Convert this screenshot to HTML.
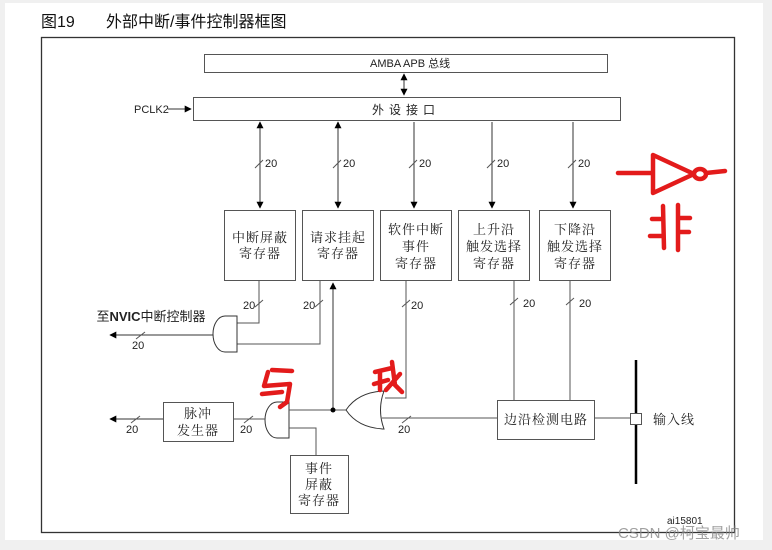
<!DOCTYPE html>
<html><head><meta charset="utf-8"><style>
html,body{margin:0;padding:0;background:#f0f0f0;}
svg{display:block;font-family:"Liberation Sans","Noto Sans CJK SC",sans-serif;}
.s{font-family:"Liberation Serif","Noto Serif CJK SC",serif;}
</style></head><body>
<svg width="772" height="550" viewBox="0 0 772 550" xmlns="http://www.w3.org/2000/svg">
<defs>
<marker id="a" viewBox="0 0 10 10" refX="9" refY="5" markerWidth="7" markerHeight="7" orient="auto-start-reverse"><path d="M0,0 L10,5 L0,10z" fill="#000"/></marker>
</defs>
<rect x="5" y="3" width="758" height="537" fill="#fff"/>
<text x="41" y="27" font-size="16" fill="#111">图19</text>
<text x="106" y="27" font-size="16" fill="#111">外部中断/事件控制器框图</text>
<rect x="41.5" y="37.5" width="693" height="495" fill="none" stroke="#333" stroke-width="1.3"/>
<g stroke="#555" fill="none" stroke-width="1">
<rect x="204.5" y="54.5" width="403" height="18"/>
<rect x="193.5" y="97.5" width="427" height="23"/>
<line x1="404" y1="74" x2="404" y2="95" marker-start="url(#a)" marker-end="url(#a)" stroke="#333"/>
<line x1="168" y1="109" x2="191" y2="109" marker-end="url(#a)" stroke="#333"/>
<g stroke="#333">
<line x1="260" y1="122" x2="260" y2="208" marker-start="url(#a)" marker-end="url(#a)"/>
<line x1="338" y1="122" x2="338" y2="208" marker-start="url(#a)" marker-end="url(#a)"/>
<line x1="414" y1="122" x2="414" y2="208" marker-end="url(#a)"/>
<line x1="492" y1="122" x2="492" y2="208" marker-end="url(#a)"/>
<line x1="573" y1="122" x2="573" y2="208" marker-end="url(#a)"/>
</g>
<rect x="224.5" y="210.5" width="71" height="70"/>
<rect x="302.5" y="210.5" width="71" height="70"/>
<rect x="380.5" y="210.5" width="71" height="70"/>
<rect x="458.5" y="210.5" width="71" height="70"/>
<rect x="539.5" y="210.5" width="71" height="70"/>
<path d="M255,168 l8,-8 M333,168 l8,-8 M409,168 l8,-8 M487,168 l8,-8 M568,168 l8,-8"/>
<polyline points="259,281 259,323 237,323"/>
<polyline points="320,281 320,344 237,344"/>
<line x1="333" y1="409" x2="333" y2="283" marker-end="url(#a)" stroke="#333"/>
<polyline points="406,281 406,398 385,398"/>
<polyline points="514,281 514,400"/>
<polyline points="570,281 570,400"/>
<path d="M255,307 l8,-7 M315,307 l8,-7 M402,307 l8,-7 M510,305 l8,-7 M566,305 l8,-7"/>
<path d="M237,316 L237,352 L225,352 A12,18 0 0 1 225,316 Z" stroke="#333"/>
<line x1="213" y1="335" x2="110" y2="335" marker-end="url(#a)" stroke="#333"/>
<path d="M136,339 l9,-7"/>
<path d="M289,402 L289,438 L277,438 A12,18 0 0 1 277,402 Z" stroke="#333"/>
<line x1="289" y1="410" x2="346" y2="410"/>
<polyline points="289,428 316,428 316,455"/>
<rect x="290.5" y="455.5" width="58" height="58"/>
<line x1="265" y1="419" x2="234" y2="419"/>
<path d="M244,423 l9,-7"/>
<rect x="163.5" y="402.5" width="70" height="39"/>
<line x1="163" y1="419" x2="110" y2="419" marker-end="url(#a)" stroke="#333"/>
<path d="M131,423 l9,-7"/>
<path d="M384,391 Q377,410 384,429 Q358,428 346,410 Q358,392 384,391 Z" stroke="#333"/>
<line x1="382" y1="418" x2="497" y2="418"/>
<path d="M402,423 l9,-7"/>
<rect x="497.5" y="400.5" width="97" height="39"/>
<line x1="594" y1="418" x2="630" y2="418"/>
</g>
<circle cx="333" cy="410" r="2.5" fill="#000"/>
<line x1="636" y1="360" x2="636" y2="484" stroke="#000" stroke-width="2.5"/>
<rect x="630.5" y="413.5" width="11" height="11" fill="#fff" stroke="#555"/>
<g font-size="11" fill="#222">
<text x="370" y="67" font-size="11">AMBA APB 总线</text>
<text x="134" y="113">PCLK2</text>
<text x="406" y="114" text-anchor="middle" font-size="12" letter-spacing="5">外设接口</text>
<text x="265" y="167">20</text><text x="343" y="167">20</text><text x="419" y="167">20</text><text x="497" y="167">20</text><text x="578" y="167">20</text>
<text x="243" y="309">20</text><text x="303" y="309">20</text><text x="411" y="309">20</text><text x="523" y="307">20</text><text x="579" y="307">20</text>
<text x="132" y="349">20</text><text x="126" y="433">20</text><text x="240" y="433">20</text><text x="398" y="433">20</text>
<text x="667" y="524" font-size="10">ai15801</text>
</g>
<g font-size="13" fill="#222" text-anchor="middle" class="s" letter-spacing="1">
<text x="260" y="242">中断屏蔽</text><text x="260" y="258">寄存器</text>
<text x="338" y="242">请求挂起</text><text x="338" y="258">寄存器</text>
<text x="416" y="234">软件中断</text><text x="416" y="251">事件</text><text x="416" y="268">寄存器</text>
<text x="494" y="234">上升沿</text><text x="494" y="251">触发选择</text><text x="494" y="268">寄存器</text>
<text x="575" y="234">下降沿</text><text x="575" y="251">触发选择</text><text x="575" y="268">寄存器</text>
<text x="198" y="418">脉冲</text><text x="198" y="435">发生器</text>
<text x="319" y="473">事件</text><text x="319" y="489">屏蔽</text><text x="319" y="505">寄存器</text>
<text x="546" y="424">边沿检测电路</text>
<text x="674" y="424">输入线</text>
</g>
<text x="151" y="321" font-size="13" fill="#222" text-anchor="middle">至<tspan font-weight="bold">NVIC</tspan>中断控制器</text>
<text x="618" y="538" font-size="15" fill="#888" fill-opacity="0.8">CSDN @柯宝最帅</text>
<g stroke="#e31b1b" stroke-width="4.5" fill="none" stroke-linecap="round" stroke-linejoin="round">
<path d="M268,372 L264,386 L290,384 L287,402 L280,407"/>
<path d="M262,394 L282,392"/>
<path d="M272,370 L292,371"/>
<path d="M375,372 L392,368 M380,372 L380,390 M374,384 L388,380 M392,362 L395,385 L402,392 M400,374 L386,390"/>
<path d="M618,173 L653,173 M653,155 L653,193 L694,174 Z M694,174 a6,5 0 1 0 12,0 a6,5 0 1 0 -12,0 M706,173 L725,171"/>
<path d="M663,206 L664,248 M678,205 L678,250 M652,219 L662,219 M650,236 L661,236 M680,218 L690,218 M680,232 L689,232"/>
</g>
</svg>
</body></html>
